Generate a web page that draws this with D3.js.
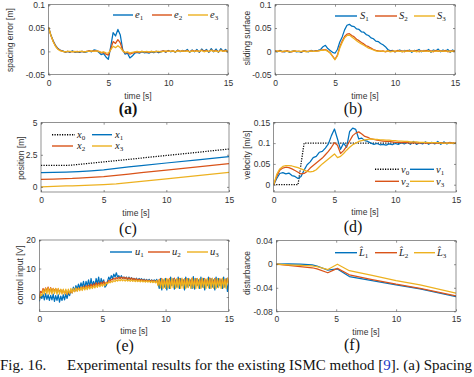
<!DOCTYPE html>
<html><head><meta charset="utf-8">
<script src="https://cdn.jsdelivr.net/npm/d3@7"></script>
<style>body{margin:0;background:#fff}svg{display:block}</style>
</head><body>
<svg id="c" width="474" height="377"></svg>
<script>
// ---------------- DATA ----------------
const xTicks = [0, 5, 10, 15];
const xTickLabels = ["0", "5", "10", "15"];

// (a) spacing error, sampled every 0.2 s
const stepA = 0.2;
const e1 = [0.052,0.035,0.022,0.012,0.006,0.002,0.001,-0.002,0.000,-0.002,0.001,-0.002,-0.001,-0.002,0.000,-0.002,-0.001,0.001,-0.001,0.003,0.002,-0.002,-0.007,-0.005,-0.012,-0.017,0.010,0.040,0.033,0.047,0.035,0.004,-0.006,-0.004,-0.014,-0.010,-0.004,-0.002,-0.004,-0.001,-0.003,-0.002,-0.004,-0.001,-0.003,0.000,-0.003,-0.001,0.001,-0.002,0.002,-0.001,0.001,-0.002,0.003,-0.001,0.002,0.000,0.004,-0.002,0.003,-0.001,0.004,-0.002,0.005,0.000,0.004,-0.002,0.006,-0.001,0.005,-0.002,0.006,0.000,0.004,-0.002];
const e2 = [0.052,0.034,0.021,0.011,0.005,0.002,0.000,-0.001,0.000,-0.001,0.000,-0.001,0.000,-0.001,0.000,-0.001,0.000,0.001,0.000,0.001,0.001,0.000,-0.003,-0.002,-0.006,-0.008,0.005,0.021,0.017,0.025,0.018,0.002,-0.003,-0.002,-0.006,-0.004,-0.002,-0.001,-0.002,0.000,-0.001,-0.001,-0.002,0.000,-0.001,0.000,-0.001,0.000,0.001,-0.001,0.001,0.000,0.001,-0.001,0.002,0.000,0.001,0.000,0.002,-0.001,0.002,0.000,0.002,-0.001,0.003,0.000,0.002,-0.001,0.003,0.000,0.002,-0.001,0.003,0.000,0.002,-0.001];
const e3 = [0.052,0.034,0.020,0.010,0.004,0.001,0.000,-0.001,0.000,0.000,-0.001,0.000,-0.001,0.000,0.000,-0.001,0.000,0.000,0.001,0.000,0.001,0.000,-0.002,-0.001,-0.003,-0.004,0.003,0.011,0.008,0.012,0.008,0.001,-0.002,-0.001,-0.003,-0.002,-0.001,0.000,-0.001,0.000,-0.001,0.000,-0.001,0.000,-0.001,0.000,0.000,-0.001,0.000,0.001,0.000,0.000,0.001,-0.001,0.001,0.000,0.001,0.000,0.001,-0.001,0.001,0.000,0.001,0.000,0.002,-0.001,0.001,0.000,0.002,0.000,0.001,-0.001,0.002,0.000,0.001,0.000];

// (b) sliding surface, sampled every 0.2 s
const stepB = 0.2;
const S1 = [0.001,-0.001,0.002,0.000,-0.001,0.001,-0.002,0.000,0.001,-0.001,0.000,-0.002,0.001,0.000,-0.001,0.002,0.000,0.001,0.002,0.004,0.010,0.013,0.006,0.002,-0.002,-0.004,0.004,0.020,0.031,0.046,0.056,0.058,0.054,0.053,0.048,0.047,0.042,0.041,0.036,0.034,0.029,0.027,0.022,0.021,0.017,0.014,0.010,0.004,0.001,0.002,-0.001,0.001,0.003,-0.001,0.002,0.000,0.003,-0.002,0.002,0.001,0.004,-0.001,0.002,0.000,0.004,-0.002,0.003,0.001,0.005,-0.001,0.003,0.000,0.004,-0.002,0.003,0.000];
const S2 = [0.001,0.000,0.001,-0.001,0.000,0.001,0.000,-0.001,0.001,0.000,0.000,-0.001,0.001,0.000,0.000,0.001,0.000,0.001,0.001,0.002,0.003,0.004,0.001,-0.003,-0.010,-0.017,-0.008,0.010,0.022,0.032,0.037,0.038,0.034,0.031,0.026,0.023,0.019,0.016,0.012,0.010,0.007,0.004,0.002,0.001,0.000,0.001,-0.001,0.001,0.000,0.001,-0.001,0.002,0.000,0.001,-0.001,0.002,0.000,0.001,0.000,0.002,-0.001,0.001,0.000,0.002,0.000,0.001,-0.001,0.002,0.000,0.001,0.000,0.002,-0.001,0.001,0.000,0.001];
const S3 = [0.000,0.001,0.000,0.000,0.001,0.000,-0.001,0.000,0.001,0.000,0.000,0.000,0.001,-0.001,0.000,0.001,0.000,0.000,0.001,0.002,0.002,0.003,0.000,-0.004,-0.011,-0.018,-0.010,0.007,0.019,0.029,0.034,0.035,0.031,0.027,0.023,0.019,0.016,0.013,0.010,0.007,0.005,0.003,0.001,0.000,0.001,0.000,0.000,0.001,-0.001,0.000,0.001,0.000,0.001,-0.001,0.001,0.000,0.001,0.000,0.001,-0.001,0.001,0.000,0.001,0.000,0.001,-0.001,0.001,0.000,0.001,0.000,0.001,0.000,0.001,-0.001,0.001,0.000];

// (c) position
const tPos = [0, 1, 2, 2.5, 3, 4, 5, 6, 7, 8, 10, 12.5, 15];
const x0 = [1.67,1.67,1.67,1.695,1.745,1.845,1.945,2.045,2.145,2.245,2.445,2.695,2.945];
const x1 = [1.10,1.12,1.14,1.16,1.19,1.25,1.33,1.44,1.55,1.65,1.86,2.11,2.36];
const x2 = [0.58,0.61,0.65,0.66,0.69,0.74,0.80,0.89,1.00,1.11,1.31,1.56,1.81];
const x3 = [0.00,0.03,0.07,0.08,0.10,0.14,0.18,0.24,0.33,0.43,0.63,0.88,1.13];

// (d) velocity
const tV0 = [0, 2, 2.5, 15];
const v0 = [0, 0, 0.1, 0.1];
const stepD = 0.25;
const v1 = [0.000,0.015,0.027,0.029,0.026,0.028,0.022,0.020,0.015,0.020,0.035,0.048,0.055,0.065,0.068,0.078,0.080,0.088,0.098,0.118,0.134,0.110,0.085,0.100,0.090,0.128,0.136,0.133,0.110,0.112,0.106,0.104,0.100,0.097,0.099,0.096,0.097,0.095,0.098,0.096,0.099,0.097,0.101,0.098,0.102,0.097,0.104,0.097,0.101,0.098,0.103,0.097,0.102,0.098,0.104,0.097,0.103,0.098,0.102,0.099,0.100];
const v2 = [0.000,0.020,0.035,0.040,0.042,0.041,0.038,0.034,0.030,0.026,0.027,0.032,0.040,0.046,0.052,0.058,0.064,0.072,0.080,0.090,0.101,0.095,0.075,0.082,0.092,0.105,0.118,0.124,0.127,0.122,0.116,0.114,0.110,0.109,0.107,0.106,0.105,0.104,0.104,0.103,0.102,0.102,0.101,0.101,0.101,0.100,0.101,0.100,0.100,0.101,0.100,0.100,0.101,0.100,0.100,0.101,0.100,0.100,0.101,0.100,0.100];
const v3 = [0.000,0.025,0.038,0.044,0.046,0.046,0.045,0.043,0.041,0.038,0.035,0.032,0.031,0.032,0.036,0.043,0.050,0.056,0.062,0.068,0.074,0.065,0.068,0.075,0.083,0.090,0.096,0.100,0.104,0.106,0.108,0.109,0.110,0.109,0.109,0.108,0.108,0.107,0.107,0.106,0.106,0.105,0.105,0.104,0.104,0.103,0.103,0.103,0.102,0.102,0.102,0.101,0.101,0.101,0.101,0.100,0.100,0.100,0.100,0.100,0.100];

// (e) control input, sampled every 0.1 s
const stepE = 0.1;
const u1 = [
 -1.5,0.5,-0.5,1,-1,1.2,-0.8,0.8,-1.2,0.6,
 -1,1,-1.5,0.5,-1.2,0.8,-1.8,0.3,-1.2,0.8,
 -1,1,-0.5,1.5,0.5,2.5,1.5,3.5,2,4,
 2.8,4.5,3,5,3.5,5.5,3,5.5,4,6,
 3.5,6.5,4,5.5,3.8,6.5,4.5,7,4,6.5,
 5,6,3.5,4,5.5,7,6,7.5,6.5,8,
 7,8.5,7,7.5,6.5,7.5,6.5,7,6.5,7,
 6,7,6.2,6.8,6,6.5,6,6.6,5.8,6.5,
 6,6.4,5.8,6.3,5.7,6.2,5.5,6.2,5.5,6,
 5.4,6,5.5,6.2,5,3,6.5,2.5,6,3.5,
 6.5,2.5,6,3,7,4,6.5,2.8,6,3.5,
 7,3,6.5,4,6,2.5,7,3.5,6.5,4,
 6,3,7.2,2.8,6.5,4,6,3,7,3.5,
 6.5,2.5,6,4,7,3,6.5,3.5,6,2.5,
 7,3.5,6.5,4,6,3,7,3.5,6.5,2,
 5];
const u2 = [
 0,2,1.5,3,2,3.2,2.2,3.5,2,3.3,
 2,3,2.2,3,1.8,2.8,1.8,2.6,1.5,2.5,
 1.2,2.3,1,2,1.2,2.2,1.5,2.6,2,3,
 2.2,3.2,2.5,3.5,2.8,3.8,3,4,3.2,4.2,
 3.5,4.5,3.6,4.6,3.8,5,4,5,4.2,5.2,
 4.5,5.4,4.5,5.2,5,5.8,5.5,6.2,6,6.6,
 6.2,6.8,6.4,7,6.5,7,6.5,7,6.4,6.9,
 6.3,6.8,6.2,6.7,6,6.5,6,6.4,5.8,6.3,
 5.8,6.2,5.6,6.1,5.5,6,5.5,5.9,5.4,5.9,
 5.3,5.8,5.2,5.8,4.5,6.2,4,6.5,4.2,6,
 4.5,6.3,4,6.5,4.2,6,4.5,6.6,4,6.2,
 4.4,6.5,4.1,6.2,4.6,6.4,4,6.5,4.3,6.1,
 4.5,6.6,4,6.3,4.4,6.5,4.1,6.2,4.6,6.4,
 4,6.5,4.3,6.1,4.5,6.6,4,6.3,4.4,6.5,
 4.1,6.2,4.6,6.4,4,6.5,4.3,6.1,4.5,6.6,
 5];
const u3 = [
 -1,1,0.5,2.5,1,3,1.2,3.2,1,3,
 1,3,1.2,3,1,3,1,2.8,1,2.8,
 1,2.8,1,2.8,1.2,3,1.5,3,1.8,3.2,
 2,3.2,2.2,3.4,2.3,3.5,2.5,3.6,2.6,3.7,
 2.8,3.8,3,4,3.2,4.2,3.4,4.3,3.6,4.5,
 3.8,4.6,4,5,4.6,5.2,5,5.5,5.2,5.8,
 5.4,6,5.6,6.1,5.7,6.2,5.7,6.1,5.6,6.1,
 5.6,6,5.5,6,5.5,5.9,5.4,5.9,5.4,5.8,
 5.3,5.8,5.3,5.7,5.2,5.7,5.2,5.7,5.1,5.6,
 5.1,5.6,5,5.8,4,6,3.2,6.3,3,6.4,
 3,6.5,3.2,6.3,3,6.6,3.3,6.2,3,6.5,
 3.2,6.4,3,6.6,3.1,6.3,3,6.5,3.3,6.4,
 3,6.6,3.2,6.3,3,6.5,3.1,6.4,3,6.6,
 3.3,6.3,3,6.5,3.2,6.4,3,6.6,3.1,6.3,
 3,6.5,3.3,6.4,3,6.6,3.2,6.3,3,6.5,
 4.5];

// (f) disturbance
const tDist = [0, 1, 2, 3, 3.4, 4.3, 5.1, 6.1, 8, 10, 12, 15];
const L1 = [0, 0.0005, 0, -0.001, -0.003, -0.010, -0.008, -0.021, -0.028, -0.035, -0.042, -0.055];
const L2 = [0, -0.002, -0.004, -0.006, -0.008, -0.0145, -0.007, -0.018, -0.026, -0.034, -0.041, -0.054];
const L3 = [0, -0.001, -0.002, -0.003, -0.004, -0.009, 0.000, -0.011, -0.019, -0.028, -0.035, -0.049];

// ---------------- DRAW ----------------
const BLUE = '#0072BD', RED = '#D95319', YEL = '#EDB120', BLK = '#000';
const DOT = '1.2,1.3';
const svg = d3.select('#c');
const grid = (n, step) => d3.range(n).map(i => +(i * step).toFixed(3));

const panels = [
  {id:'a', l:48.5, r:228, t:4.7, b:74.7, yd:[-0.05,0.1], yt:[-0.05,0,0.05,0.1], ytl:["-0.05","0","0.05","0.1"],
   ylab:'spacing error [m]', ylx:10.5, yly:40, xlab:[138,96], sub:['(a)',128,114,'bold'],
   series:[{t:grid(e1.length,stepA),v:e1,c:BLUE},{t:grid(e2.length,stepA),v:e2,c:RED},{t:grid(e3.length,stepA),v:e3,c:YEL}],
   legend:[[113,133,15,BLUE,null,135,'e','1'],[152,172,15,RED,null,174,'e','2'],[188,208,15,YEL,null,210,'e','3']]},
  {id:'b', l:275, r:455, t:4.7, b:74.7, yd:[-0.05,0.1], yt:[-0.05,0,0.05,0.1], ytl:["-0.05","0","0.05","0.1"],
   ylab:'sliding surface', ylx:247.5, yly:38, xlab:[365,96], sub:['(b)',353,114,'normal'],
   series:[{t:grid(S1.length,stepB),v:S1,c:BLUE},{t:grid(S2.length,stepB),v:S2,c:RED},{t:grid(S3.length,stepB),v:S3,c:YEL}],
   legend:[[335,357,16,BLUE,null,360,'S','1'],[375,397,16,RED,null,399,'S','2'],[414,435,16,YEL,null,437,'S','3']]},
  {id:'c', l:41, r:229, t:122.7, b:192, yd:[-0.4,5], yt:[0,2.5,5], ytl:["0","2.5","5"],
   ylab:'position [m]', ylx:21, yly:158, xlab:[136,213], sub:['(c)',128,234,'normal'],
   series:[{t:tPos,v:x0,c:BLK,dash:DOT},{t:tPos,v:x1,c:BLUE},{t:tPos,v:x2,c:RED},{t:tPos,v:x3,c:YEL}],
   legend:[[52,75,134.7,BLK,DOT,77,'x','0'],[92,112,134.7,BLUE,null,115,'x','1'],[52,73,146,RED,null,77,'x','2'],[92,112,146,YEL,null,115,'x','3']]},
  {id:'d', l:273.7, r:456, t:122.3, b:192, yd:[-0.0175,0.15], yt:[0,0.05,0.1,0.15], ytl:["0","0.05","0.1","0.15"],
   ylab:'velocity [m/s]', ylx:247.5, yly:155, xlab:[365,212], sub:['(d)',353,232,'normal'],
   series:[{t:tV0,v:v0,c:BLK,dash:DOT},{t:grid(v1.length,stepD),v:v1,c:BLUE},{t:grid(v2.length,stepD),v:v2,c:RED},{t:grid(v3.length,stepD),v:v3,c:YEL}],
   legend:[[375,399,169.3,BLK,DOT,401,'v','0'],[410,434,169.3,BLUE,null,436,'v','1'],[375,399,181.3,RED,null,401,'v','2'],[410,434,181.3,YEL,null,436,'v','3']]},
  {id:'e', l:39.3, r:228.7, t:240, b:311.3, yd:[-5,20], yt:[0,10,20], ytl:["0","10","20"],
   ylab:'control input [V]', ylx:20.5, yly:275, xlab:[134,331], sub:['(e)',125,351,'normal'],
   series:[{t:grid(u1.length,stepE),v:u1,c:BLUE},{t:grid(u2.length,stepE),v:u2,c:RED},{t:grid(u3.length,stepE),v:u3,c:YEL}],
   legend:[[110,132,252,BLUE,null,135,'u','1'],[148,170,252,RED,null,172,'u','2'],[187,208,252,YEL,null,210,'u','3']]},
  {id:'f', l:276.3, r:456, t:240.7, b:311.3, yd:[-0.08,0.04], yt:[-0.08,-0.04,0,0.04], ytl:["-0.08","-0.04","0","0.04"],
   ylab:'disturbance', ylx:247.5, yly:273, xlab:[366,332], sub:['(f)',352,350,'normal'],
   series:[{t:tDist,v:L1,c:BLUE},{t:tDist,v:L2,c:RED},{t:tDist,v:L3,c:YEL}],
   legend:[[335,357,252.7,BLUE,null,359,'L\u0302','1'],[375,397,252.7,RED,null,399,'L\u0302','2'],[414,435,252.7,YEL,null,437,'L\u0302','3']]}
];

const AX = '#4a4a4a';
const SANS = '"Liberation Sans", Arial, Helvetica, sans-serif';
const SERIF = '"Liberation Serif", "Times New Roman", serif';

panels.forEach(p => {
  const x = d3.scaleLinear().domain([0, 15]).range([p.l, p.r]);
  const y = d3.scaleLinear().domain(p.yd).range([p.b, p.t]);
  const g = svg.append('g');
  svg.append('clipPath').attr('id', 'clip' + p.id).append('rect')
    .attr('x', p.l).attr('y', p.t).attr('width', p.r - p.l).attr('height', p.b - p.t);
  const lg = g.append('g').attr('clip-path', `url(#clip${p.id})`);
  const line = d3.line().x(d => x(d[0])).y(d => y(d[1]));
  p.series.forEach(s => {
    lg.append('path').attr('d', line(s.t.map((t, i) => [t, s.v[i]])))
      .attr('fill', 'none').attr('stroke', s.c).attr('stroke-width', 1.25)
      .attr('stroke-linejoin', 'round').attr('stroke-dasharray', s.dash || null);
  });

  const styleAxis = sel => {
    sel.attr('font-family', SANS).attr('font-size', 8.5);
    sel.select('.domain').remove();
    sel.selectAll('.tick line').attr('stroke', AX).attr('stroke-width', 0.6);
    sel.selectAll('.tick text').attr('fill', '#333');
  };
  g.append('g').attr('transform', `translate(0,${p.b})`)
    .call(d3.axisBottom(x).tickValues(xTicks).tickSize(-2).tickPadding(5).tickFormat((d, i) => xTickLabels[i])).call(styleAxis);
  g.append('g').attr('transform', `translate(0,${p.t})`)
    .call(d3.axisTop(x).tickValues(xTicks).tickSize(-2).tickFormat('')).call(styleAxis);
  g.append('g').attr('transform', `translate(${p.l},0)`)
    .call(d3.axisLeft(y).tickValues(p.yt).tickSize(-2).tickPadding(3.5).tickFormat((d, i) => p.ytl[i])).call(styleAxis);
  g.append('g').attr('transform', `translate(${p.r},0)`)
    .call(d3.axisRight(y).tickValues(p.yt).tickSize(-2).tickFormat('')).call(styleAxis);

  g.append('rect').attr('x', p.l).attr('y', p.t).attr('width', p.r - p.l).attr('height', p.b - p.t)
    .attr('fill', 'none').attr('stroke', AX).attr('stroke-width', 0.6);

  // axis labels
  g.append('text').attr('x', p.xlab[0]).attr('y', p.xlab[1]).attr('dy', '0.35em')
    .attr('text-anchor', 'middle').attr('font-family', SANS).attr('font-size', 8.5).attr('fill', '#333').text('time [s]');
  g.append('text').attr('transform', `translate(${p.ylx},${p.yly}) rotate(-90)`).attr('dy', '0.35em')
    .attr('text-anchor', 'middle').attr('font-family', SANS).attr('font-size', 8.5).attr('fill', '#333').text(p.ylab);

  // legend
  p.legend.forEach(([x1, x2, ly, c, dash, tx, main, sub]) => {
    g.append('line').attr('x1', x1).attr('x2', x2).attr('y1', ly).attr('y2', ly)
      .attr('stroke', c).attr('stroke-width', 1.4).attr('stroke-dasharray', dash);
    const t = g.append('text').attr('x', tx).attr('y', ly + 3.2).attr('font-family', SERIF)
      .attr('font-size', 10.5).attr('font-style', 'italic').attr('fill', '#222');
    t.append('tspan').text(main);
    t.append('tspan').attr('font-size', 7).attr('font-style', 'normal').attr('dy', 2).text(sub);
  });

  // sub-figure label
  g.append('text').attr('x', p.sub[1]).attr('y', p.sub[2]).attr('text-anchor', 'middle')
    .attr('font-family', SERIF).attr('font-size', 16).attr('font-weight', p.sub[3]).attr('fill', '#111').text(p.sub[0]);
});

// caption
const CAP = 15;
svg.append('text').attr('x', 0).attr('y', 370).attr('font-family', SERIF).attr('font-size', CAP).attr('fill', '#111').text('Fig. 16.');
const cap = svg.append('text').attr('x', 472).attr('y', 370).attr('text-anchor', 'end')
  .attr('font-family', SERIF).attr('font-size', CAP).attr('fill', '#111');
cap.append('tspan').text('Experimental results for the existing ISMC method [');
cap.append('tspan').attr('fill', '#1a3cc8').text('9');
cap.append('tspan').text(']. (a) Spacing');
</script>
</body></html>
